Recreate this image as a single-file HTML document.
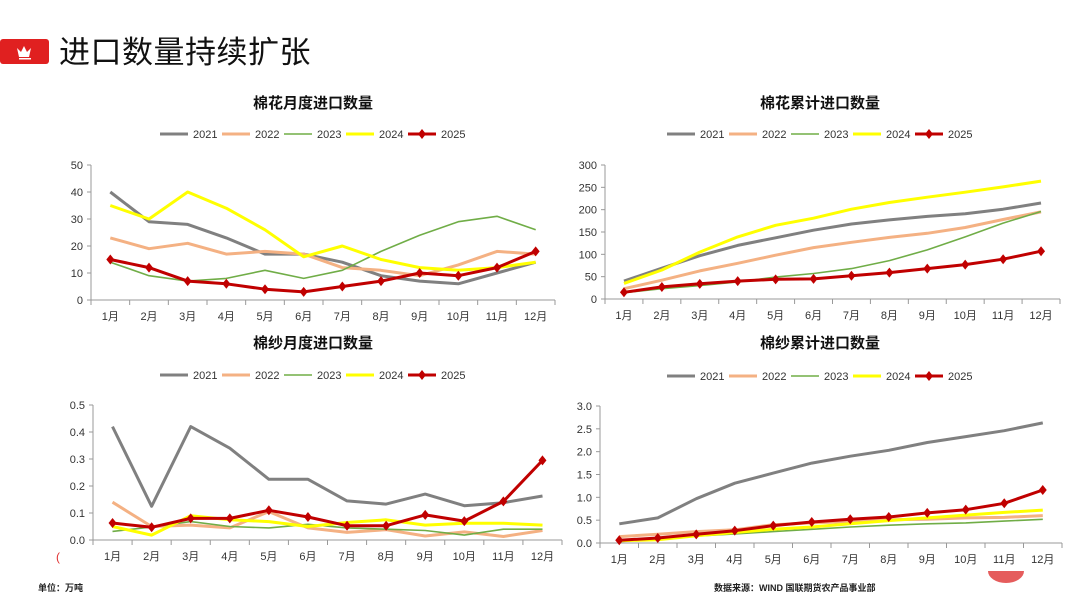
<!DOCTYPE html>
<html><head><meta charset="utf-8">
<style>
body{margin:0;background:#fff;width:1080px;height:608px;overflow:hidden;font-family:"Liberation Sans","Noto Sans CJK SC",sans-serif}
svg text{font-family:"Liberation Sans","Noto Sans CJK SC",sans-serif}
</style></head><body>
<svg id="s" width="1080" height="608" viewBox="0 0 1080 608">
<g>
<rect x="0" y="39" width="49" height="25" rx="3" fill="#e02020"/>
<path d="M24 46 l-3 6 l-4 -4 l2 9 h10 l2 -9 l-4 4 z" fill="#fff"/>
<rect x="19" y="58" width="12" height="1.5" fill="#fff"/>
<text x="59" y="63" font-size="31" fill="#111" letter-spacing="0.5">进口数量持续扩张</text>
</g>
<text x="38" y="591" font-size="9" font-weight="bold" fill="#222">单位：万吨</text>
<text x="714" y="591" font-size="9" font-weight="bold" fill="#222">数据来源：WIND 国联期货农产品事业部</text>
<path d="M988 571 a18 12 0 0 0 36 0 z" fill="#e04040" opacity="0.85"/>
<text x="56" y="561" font-size="12" fill="#e03030">(</text>
</svg>
<script>
const months=["1月","2月","3月","4月","5月","6月","7月","8月","9月","10月","11月","12月"];
const years=["2021","2022","2023","2024","2025"];
const cottonMonthly2021=[40,29,28,23,17,17,14,9,7,6,10,14];
const cottonMonthly2022=[23,19,21,17,18,17,12,11,9,13,18,17];
const cottonMonthly2023=[14,9,7,8,11,8,11,18,24,29,31,26];
const cottonMonthly2024=[35,30,40,34,26,16,20,15,12,11,12,14];
const cottonMonthly2025=[15,12,7,6,4,3,5,7,10,9,12,18];
const cottonCum2021=[40,69,97,120,137,154,168,177,185,191,201,215];
const cottonCum2022=[23,42,63,80,98,115,127,138,147,160,178,195];
const cottonCum2023=[14,23,30,38,49,57,68,86,110,139,170,196];
const cottonCum2024=[35,65,105,139,165,181,201,216,228,239,251,264];
const cottonCum2025=[15,27,34,40,44,45,52,59,68,77,89,107];
const yarnMonthly2021=[.42,.125,.42,.34,.225,.225,.145,.133,.17,.127,.138,.163];
const yarnMonthly2022=[.14,.05,.055,.045,.105,.045,.028,.038,.015,.03,.013,.035];
const yarnMonthly2023=[.032,.048,.068,.05,.045,.058,.045,.04,.035,.018,.04,.04];
const yarnMonthly2024=[.05,.018,.09,.075,.068,.05,.065,.075,.055,.062,.062,.055];
const yarnMonthly2025=[.063,.047,.08,.08,.11,.085,.053,.053,.093,.07,.143,.295];
const yarnCum2021=[.42,.55,.97,1.31,1.53,1.75,1.90,2.03,2.20,2.33,2.46,2.63];
const yarnCum2022=[.14,.19,.25,.29,.40,.44,.47,.51,.52,.55,.56,.60];
const yarnCum2023=[.03,.08,.15,.20,.25,.30,.35,.39,.42,.44,.48,.52];
const yarnCum2024=[.05,.07,.16,.23,.30,.35,.42,.49,.55,.61,.67,.72];
const yarnCum2025=[.06,.11,.19,.27,.38,.46,.52,.57,.66,.73,.87,1.16];
const ticks1=[0,10,20,30,40,50], ticks2=[0,50,100,150,200,250,300];
const ticks3=["0.0","0.1","0.2","0.3","0.4","0.5"], ticks4=["0.0","0.5","1.0","1.5","2.0","2.5","3.0"];

const colors=["#808080","#f4b183","#70ad47","#ffff00","#c00000"];
const widths=[3,3,1.6,3,3];
const NS="http://www.w3.org/2000/svg";
const svg=document.getElementById('s');
function mk(tag,attrs,parent){const e=document.createElementNS(NS,tag);for(const k in attrs)e.setAttribute(k,attrs[k]);(parent||svg).appendChild(e);return e;}

function chart(cfg){
  const g=mk('g',{});
  
  
  const {x0,x1,y0,y1,max,ticks}=cfg;
  const bw=(x1-x0)/12;
  const X=i=>x0+bw*(i+0.5);
  const Y=v=>y0-(v/max)*(y0-y1);
  const t=mk('text',{x:cfg.tx,y:cfg.ty,'font-size':15,'font-weight':'bold','text-anchor':'middle',fill:'#111'},g);
  t.textContent=cfg.title;
  
  
  years.forEach((yr,k)=>{
    const lx=cfg.lx+k*62, ly=cfg.ly;
    const lg=mk('g',{},g);
    
    
    mk('line',{x1:lx,y1:ly,x2:lx+28,y2:ly,stroke:colors[k],'stroke-width':widths[k]},lg);
    if(k===4) mk('path',{d:`M${lx+14} ${ly-5} l4 5 l-4 5 l-4 -5z`,fill:colors[k]},lg);
    const tt=mk('text',{x:lx+33,y:ly+4,'font-size':11,fill:'#333'},lg);
    tt.textContent=yr;
  });
  const ax=mk('line',{x1:x0,y1:y1,x2:x0,y2:y0,stroke:'#999','stroke-width':1},g);
  
  
  const bx=mk('line',{x1:x0,y1:y0,x2:x1,y2:y0,stroke:'#999','stroke-width':1},g);
  
  
  ticks.forEach(tv=>{
    const yy=Y(parseFloat(tv));
    mk('line',{x1:x0-4,y1:yy,x2:x0,y2:yy,stroke:'#999'},g);
    const tl=mk('text',{x:x0-8,y:yy+4,'font-size':11,'text-anchor':'end',fill:'#333'},g);
    tl.textContent=tv;
    
    
  });
  for(let i=0;i<=12;i++) mk('line',{x1:x0+bw*i,y1:y0,x2:x0+bw*i,y2:y0+5,stroke:'#999'},g);
  months.forEach((m,i)=>{
    const tl=mk('text',{x:X(i),y:y0+20,'font-size':11,'text-anchor':'middle',fill:'#333'},g);
    tl.textContent=m;
    
    
  });
  cfg.series.forEach((arr,k)=>{
    const pts=arr.map((v,i)=>X(i).toFixed(1)+','+Y(v).toFixed(1)).join(' ');
    const pl=mk('polyline',{points:pts,fill:'none',stroke:colors[k],'stroke-width':widths[k],'stroke-linejoin':'round'},g);
    
    
    if(k===4){
      arr.forEach((v,i)=>{
        const d=mk('path',{d:`M${X(i)} ${Y(v)-5} l4 5 l-4 5 l-4 -5z`,fill:colors[k]},g);
        
        
      });
    }
  });
}
chart({name:'cotton-monthly-chart',title:'棉花月度进口数量',tx:313,ty:108,lx:160,ly:134,x0:91,x1:555,y0:300,y1:165,max:50,ticks:ticks1,
 series:[cottonMonthly2021,cottonMonthly2022,cottonMonthly2023,cottonMonthly2024,cottonMonthly2025]});
chart({name:'cotton-cumulative-chart',title:'棉花累计进口数量',tx:820,ty:108,lx:667,ly:134,x0:605,x1:1060,y0:299,y1:165,max:300,ticks:ticks2,
 series:[cottonCum2021,cottonCum2022,cottonCum2023,cottonCum2024,cottonCum2025]});
chart({name:'yarn-monthly-chart',title:'棉纱月度进口数量',tx:313,ty:348,lx:160,ly:375,x0:93,x1:562,y0:540,y1:405,max:0.5,ticks:ticks3,
 series:[yarnMonthly2021,yarnMonthly2022,yarnMonthly2023,yarnMonthly2024,yarnMonthly2025]});
chart({name:'yarn-cumulative-chart',title:'棉纱累计进口数量',tx:820,ty:348,lx:667,ly:376,x0:600,x1:1062,y0:543,y1:406,max:3.0,ticks:ticks4,
 series:[yarnCum2021,yarnCum2022,yarnCum2023,yarnCum2024,yarnCum2025]});
</script>
</body></html>
